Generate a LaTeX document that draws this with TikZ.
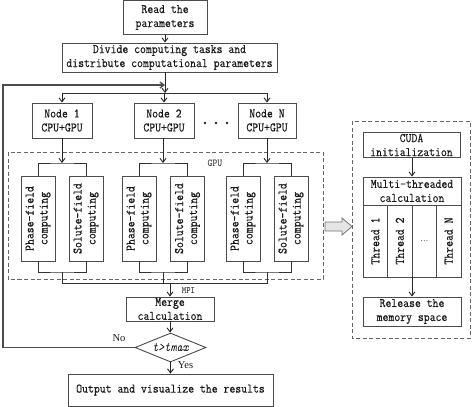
\documentclass[tikz,border=0pt]{standalone}
\usepackage{fontspec}
\newfontfamily\tnr{Liberation Serif}
\newfontfamily\simfont{Latin Modern Mono}[FakeStretch=0.88, FakeBold=0.35]
\newfontfamily\simlight{Latin Modern Mono}[FakeStretch=0.88]
\usetikzlibrary{shapes.geometric,arrows.meta}
\begin{document}
\begin{tikzpicture}[x=1pt,y=-1pt,
  mono/.style={font=\fontsize{13}{14}\selectfont\simfont},
  box/.style={draw=black!70, line width=0.9pt, fill=white, inner sep=0pt, align=center, mono, text=black!90},
  ln/.style={draw=black!80, line width=0.9pt},
  arr/.style={draw=black!85, line width=0.9pt, -{Straight Barb[length=4pt,width=6pt]}},
  dbox/.style={draw=black!60, line width=0.9pt, dash pattern=on 4pt off 2.5pt},
  lbl/.style={inner sep=0pt, text=black!90}
]
\path[use as bounding box, fill=white] (0,0) rectangle (474,407);

% top boxes
\node[box, minimum width=84pt, minimum height=34pt] (read) at (165,17.5) {Read the\\parameters};
\node[box, minimum width=215pt, minimum height=29pt] (divide) at (169.5,57.5) {Divide computing tasks and\\distribute computational parameters};

% compute nodes
\node[box, minimum width=60pt, minimum height=35pt] (n1) at (62,120.5) {Node 1\\CPU+GPU};
\node[box, minimum width=60pt, minimum height=35pt] (n2) at (164,120.5) {Node 2\\CPU+GPU};
\node[box, minimum width=58pt, minimum height=35pt] (nN) at (267,120.5) {Node N\\CPU+GPU};
\fill[black!85] (205,123) circle (1.4pt) (216,123) circle (1.4pt) (227,123) circle (1.4pt);

% trunk and distribution
\coordinate (d) at (165,93);
\coordinate (j) at (165,85);
\draw[arr] (read.south) -- (read.south |- divide.north);
\draw[arr] (divide.south -| d) -- (d);
\draw[ln] (n1.north |- d) -- (nN.north |- d);
\draw[arr] (n1.north |- d) -- (n1.north);
\draw[arr] (n2.north |- d) -- (n2.north);
\draw[arr] (nN.north |- d) -- (nN.north);

% GPU dashed region
\draw[dbox] (8,152) rectangle (323,279);
\node[lbl, font=\fontsize{10.5}{11}\selectfont\simlight] (gpu) at (215,163) {GPU};

% field boxes
\tikzset{fld/.style={box, rotate=90, minimum width=85pt, minimum height=34pt}}
\node[fld] (p1) at (38,218.5) {Phase-field\\computing};
\node[fld] (s1) at (86,218.5) {Solute-field\\computing};
\node[fld] (p2) at (139,218.5) {Phase-field\\computing};
\node[fld] (s2) at (187.5,218.5) {Solute-field\\computing};
\node[fld] (p3) at (243,218.5) {Phase-field\\computing};
\node[fld] (s3) at (291,218.5) {Solute-field\\computing};

\coordinate (t1) at (62,163);
\coordinate (t2) at (163,163);
\coordinate (t3) at (267,163);
\draw[arr] (n1.south) -- (t1);
\draw[arr] (n2.south -| t2) -- (t2);
\draw[arr] (nN.south) -- (t3);
\draw[ln] (p1.east) |- (t1) -| (s1.east);
\draw[ln] (p2.east) |- (t2) -| (s2.east);
\draw[ln] (p3.east) |- (t3) -| (s3.east);

\coordinate (b1) at (62,272);
\coordinate (b2) at (163,272);
\coordinate (b3) at (267,272);
\coordinate (c1) at (62,283);
\coordinate (c2) at (163,283);
\coordinate (c3) at (267,283);
\draw[ln] (p1.west) |- (b1) -| (s1.west);
\draw[ln] (p2.west) |- (b2) -| (s2.west);
\draw[ln] (p3.west) |- (b3) -| (s3.west);
\draw[ln] (b1) -- (c1) -- (c3) -- (b3);
\draw[ln] (b2) -- (c2);

% merge, decision, output
\node[box, minimum width=88pt, minimum height=24pt] (merge) at (170,309) {Merge\\calculation};
\node[lbl, font=\fontsize{9.5}{10}\selectfont\simlight] (mpi) at (188.5,291) {MPI};
\draw[arr] (merge.north |- c1) -- (merge.north);
\node[draw=black!70, line width=0.9pt, diamond, aspect=2.45, inner sep=0pt, minimum width=71pt, minimum height=29pt,
      font=\fontsize{13}{14}\selectfont\simlight\itshape] (dia) at (170.5,347.5) {t>tmax};
\draw[arr] (merge.south) -- (merge.south |- dia.north);
\node[box, minimum width=205pt, minimum height=32pt] (out) at (170.5,390) {Output and visualize the results};
\draw[arr] (dia.south) -- (dia.south |- out.north);
\node[lbl, font=\fontsize{10.5}{12}\selectfont\tnr] (yes) at (185.5,365) {Yes};
\node[lbl, font=\fontsize{10.5}{12}\selectfont\tnr] (no) at (119,338) {No};

% feedback loop
\coordinate (fb) at (3,347.5);
\draw[arr, line width=1.3pt, draw=black!70] (dia.west) -- (fb) |- (j);

% hollow arrow to detail
\draw[draw=black!55, fill=black!10, line width=0.8pt]
  (325,222) -- (342,222) -- (342,218) -- (352,226.5) -- (342,235) -- (342,231) -- (325,231) -- cycle;

% right detail panel
\draw[dbox] (352,121) rectangle (470,338);
\node[box, minimum width=97pt, minimum height=25pt] (cuda) at (411.5,145) {CUDA\\initialization};
\node[box, minimum width=98pt, minimum height=28pt] (multi) at (412,191) {Multi-threaded\\calculation};
\tikzset{thr/.style={box, rotate=90, minimum width=72pt, minimum height=24.5pt}}
\node[thr] (th1) at (375.25,241) {Thread 1};
\node[thr] (th2) at (399.75,241) {Thread 2};
\node[box, minimum width=24.5pt, minimum height=72pt, font=\fontsize{8}{8}\selectfont\tnr] (th3) at (424.25,241) {…};
\node[thr] (th4) at (448.75,241) {Thread N};
\node[box, minimum width=98pt, minimum height=29pt] (rel) at (412,311.5) {Release the\\memory space};
\draw[arr] (cuda.south -| multi.north) -- (multi.north);
\draw[arr] (rel.north |- th3.south) -- (rel.north);
\end{tikzpicture}
\end{document}
